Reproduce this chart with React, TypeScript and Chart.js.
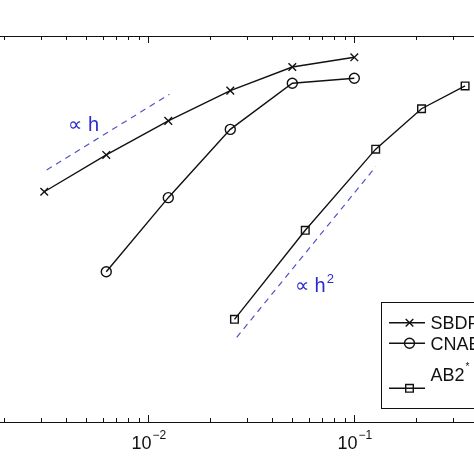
import React, { useEffect, useRef } from "react";
import { Chart, registerables } from "chart.js";

Chart.register(...registerables);

// step size h (x) and error (y)
const H_SBDF = [0.1, 0.05, 0.025, 0.0125, 0.00625, 0.003125];
const ERR_SBDF = [0.0683, 0.0574, 0.0376, 0.0219, 0.0119, 0.00616];
const H_CNAB = [0.1, 0.05, 0.025, 0.0125, 0.00625];
const ERR_CNAB = [0.0469, 0.0429, 0.0188, 0.00554, 0.00147];
const H_AB2 = [0.0262, 0.0578, 0.127, 0.212, 0.345];
const ERR_AB2 = [0.000628, 0.00309, 0.0132, 0.0272, 0.0409];
const REF1_H = [0.00321, 0.01265];
const REF1_ERR = [0.00909, 0.0352];
const REF2_H = [0.02686, 0.127];
const REF2_ERR = [0.000455, 0.00964];

const LABELS = ["SBDF2", "CNAB2", "AB2"];
const REF_LABELS = ["h", "h"];
const REF_LABEL_POS = [
  { x: 0.00409, y: 0.01837, sup: "" },
  { x: 0.0515, y: 0.00103, sup: "2" },
];
const X_MIN = 0.0019055;
const X_MAX = 0.38106;
const Y_MIN = 1e-4;
const Y_MAX = 1e-1;

const FONT = '"Liberation Sans", Arial, Helvetica, sans-serif';
const BLUE_TEXT = "#2b2bcf";
const BLUE_DASH = "#5252c4";

const pts = (xs: number[], ys: number[]) => xs.map((x, i) => ({ x, y: ys[i] }));

const framePlugin = {
  id: "frame",
  afterDraw(chart: any) {
    const ctx = chart.ctx as CanvasRenderingContext2D;
    const xs = chart.scales.x;
    const ys = chart.scales.y;
    const ca = chart.chartArea;
    const W = chart.width;
    ctx.save();
    ctx.strokeStyle = "#111";
    ctx.lineWidth = 1;
    // axis lines
    ctx.beginPath();
    ctx.moveTo(0, Math.round(ca.top) + 0.5);
    ctx.lineTo(W, Math.round(ca.top) + 0.5);
    ctx.moveTo(0, Math.round(ca.bottom) + 0.5);
    ctx.lineTo(W, Math.round(ca.bottom) + 0.5);
    ctx.stroke();
    // ticks
    ctx.beginPath();
    for (let d = -4; d <= 1; d++) {
      for (let m = 1; m <= 9; m++) {
        const v = m * Math.pow(10, d);
        if (v < X_MIN || v > X_MAX) continue;
        const px = Math.round(xs.getPixelForValue(v)) + 0.5;
        const len = m === 1 ? 7 : 4;
        ctx.moveTo(px, ca.bottom);
        ctx.lineTo(px, ca.bottom - len);
        ctx.moveTo(px, ca.top);
        ctx.lineTo(px, ca.top + len);
      }
    }
    ctx.stroke();
    // tick labels
    ctx.fillStyle = "#111";
    ctx.textBaseline = "alphabetic";
    for (let d = -4; d <= 1; d++) {
      const v = Math.pow(10, d);
      if (v < X_MIN || v > X_MAX) continue;
      const px = xs.getPixelForValue(v);
      ctx.font = `18px ${FONT}`;
      const base = "10";
      const wb = ctx.measureText(base).width;
      ctx.font = `12px ${FONT}`;
      const exp = "\u2212" + String(-d);
      const we = ctx.measureText(exp).width;
      const left = px - (wb + we) / 2;
      ctx.font = `18px ${FONT}`;
      ctx.textAlign = "left";
      ctx.fillText(base, left, ca.bottom + 27);
      ctx.font = `12px ${FONT}`;
      ctx.fillText(exp, left + wb + 1, ca.bottom + 17);
    }
    // reference slope labels
    ctx.fillStyle = BLUE_TEXT;
    REF_LABEL_POS.forEach((p, i) => {
      const px = xs.getPixelForValue(p.x);
      const py = ys.getPixelForValue(p.y);
      ctx.font = `20px ${FONT}`;
      ctx.textAlign = "left";
      const t = "\u221D " + REF_LABELS[i];
      ctx.fillText(t, px, py);
      if (p.sup) {
        const w = ctx.measureText(t).width;
        ctx.font = `13px ${FONT}`;
        ctx.fillText(p.sup, px + w + 1, py - 9);
      }
    });
    // legend
    const bx = 381.5, by = 302.5, bb = 408.5;
    ctx.fillStyle = "#fff";
    ctx.fillRect(bx, by, W - bx + 5, bb - by);
    ctx.strokeStyle = "#111";
    ctx.lineWidth = 1;
    ctx.strokeRect(bx, by, W - bx + 5, bb - by);
    const rows = [
      { y: 322.7, ty: 328.8, style: "x" },
      { y: 343.3, ty: 349.6, style: "o" },
      { y: 388.3, ty: 380.5, style: "s" },
    ];
    rows.forEach((r, i) => {
      ctx.strokeStyle = "#111";
      ctx.lineWidth = 1.4;
      ctx.beginPath();
      ctx.moveTo(389, r.y);
      ctx.lineTo(425, r.y);
      ctx.stroke();
      const cx = 409.5;
      ctx.beginPath();
      if (r.style === "x") {
        const s = 3.8;
        ctx.moveTo(cx - s, r.y - s);
        ctx.lineTo(cx + s, r.y + s);
        ctx.moveTo(cx - s, r.y + s);
        ctx.lineTo(cx + s, r.y - s);
      } else if (r.style === "o") {
        ctx.arc(cx, r.y, 5, 0, Math.PI * 2);
      } else {
        ctx.rect(cx - 3.8, r.y - 3.8, 7.6, 7.6);
      }
      ctx.stroke();
      ctx.fillStyle = "#111";
      ctx.font = `18px ${FONT}`;
      ctx.textAlign = "left";
      ctx.fillText(LABELS[i], 430.5, r.ty);
      if (i === 2) {
        const w = ctx.measureText(LABELS[i]).width;
        ctx.font = `10px ${FONT}`;
        ctx.fillText("*", 430.5 + w + 1, r.ty - 11);
      }
    });
    ctx.restore();
  },
};

export default function App() {
  const ref = useRef<HTMLCanvasElement | null>(null);
  useEffect(() => {
    if (!ref.current) return;
    const lineDs = (label: string, data: any, style: string, radius: number) => ({
      label,
      data,
      borderColor: "#111",
      borderWidth: 1.4,
      pointStyle: style,
      pointRadius: radius,
      pointBorderColor: "#111",
      pointBackgroundColor: "transparent",
      pointBorderWidth: 1.4,
      backgroundColor: "transparent",
      fill: false,
      tension: 0,
      clip: false,
    });
    const dashDs = (data: any) => ({
      label: "ref",
      data,
      borderColor: BLUE_DASH,
      borderWidth: 1.2,
      borderDash: [6, 5],
      pointRadius: 0,
      fill: false,
      tension: 0,
    });
    const chart = new Chart(ref.current, {
      type: "line",
      data: {
        datasets: [
          dashDs(pts(REF1_H, REF1_ERR)),
          dashDs(pts(REF2_H, REF2_ERR)),
          lineDs(LABELS[0], pts(H_SBDF, ERR_SBDF), "crossRot", 5.4),
          lineDs(LABELS[1], pts(H_CNAB, ERR_CNAB), "circle", 5),
          lineDs(LABELS[2], pts(H_AB2, ERR_AB2), "rect", 5.4),
        ] as any,
      },
      options: {
        animation: false,
        responsive: false,
        devicePixelRatio: 1,
        layout: { autoPadding: false, padding: { top: 36, bottom: 52, left: 0, right: 0 } },
        scales: {
          x: { type: "logarithmic", min: X_MIN, max: X_MAX, display: false },
          y: { type: "logarithmic", min: Y_MIN, max: Y_MAX, display: false },
        },
        plugins: {
          legend: { display: false },
          tooltip: { enabled: false },
        },
        events: [],
      },
      plugins: [framePlugin],
    });
    return () => chart.destroy();
  }, []);
  return (
    <div style={{ position: "fixed", left: 0, top: 0, width: 474, height: 474, background: "#fff" }}>
      <canvas ref={ref} width={474} height={474} style={{ display: "block" }} />
    </div>
  );
}
